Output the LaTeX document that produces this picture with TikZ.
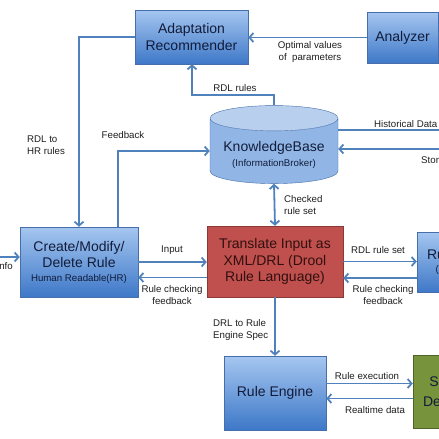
\documentclass[tikz,border=0pt]{standalone}
\usepackage{fontspec}
\setmainfont{Liberation Sans}
\usetikzlibrary{arrows.meta,shapes.geometric}

\definecolor{arrowblue}{RGB}{79,129,189}
\definecolor{boxtop}{RGB}{165,198,240}
\definecolor{boxbot}{RGB}{62,120,200}
\definecolor{boxline}{RGB}{70,110,170}
\definecolor{boxtext}{RGB}{18,28,58}
\definecolor{rulered}{RGB}{192,80,77}
\definecolor{redline}{RGB}{140,56,52}
\definecolor{redtext}{RGB}{48,16,16}
\definecolor{devgreen}{RGB}{119,147,60}
\definecolor{greenline}{RGB}{80,100,40}
\definecolor{kbtop}{RGB}{185,207,238}
\definecolor{kbbody}{RGB}{145,182,230}
\definecolor{lbltext}{RGB}{30,30,30}

\tikzset{
  bluebox/.style={draw=boxline, top color=boxtop, bottom color=boxbot,
    text=boxtext, font=\fontsize{14}{16.5}\selectfont, align=center, inner sep=0pt},
  redbox/.style={draw=redline, fill=rulered, text=redtext,
    font=\fontsize{14}{16.5}\selectfont, align=center, inner sep=0pt},
  greenbox/.style={draw=greenline, fill=devgreen, text=boxtext,
    font=\fontsize{14}{16.5}\selectfont, align=center, inner sep=0pt},
  kbstore/.style={cylinder, shape border rotate=90, aspect=0.25, draw=boxline,
    cylinder uses custom fill, cylinder end fill=kbtop, cylinder body fill=kbbody,
    font=\fontsize{14}{16.5}\selectfont, align=center, inner sep=0pt},
  kbtext/.style={text=boxtext, font=\fontsize{14}{16.5}\selectfont, align=center, inner sep=0pt},
  lbl/.style={font=\fontsize{9.7}{12.5}\selectfont, text=lbltext, align=center, inner sep=0pt},
  arr/.style={draw=arrowblue, line width=1.8pt, -{Straight Barb[length=4pt,width=9pt]}},
  arrboth/.style={arr, {Straight Barb[length=4pt,width=9pt]}-{Straight Barb[length=4pt,width=9pt]}}
}

\newcommand{\smalltext}[1]{{\fontsize{9.7}{12}\selectfont #1}}

\begin{document}
\begin{tikzpicture}[x=1pt, y=-1pt]
  \useasboundingbox (0,0) rectangle (439,439);
  \clip (0,0) rectangle (439,439);

  % boxes
  \node[bluebox, minimum width=113pt, minimum height=54pt] (adapt) at (191.5,37) {Adaptation\\Recommender};
  \node[bluebox, minimum width=71pt, minimum height=51pt] (analyzer) at (402.5,37.5) {Analyzer};
  \node[kbstore, minimum width=128pt, minimum height=78pt] (kb) at (274,151) {\phantom{KnowledgeBase}\\\phantom{\smalltext{(InformationBroker)}}};
  \node[kbtext] (kbname) at (274,155) {KnowledgeBase\\[-1pt]\smalltext{(InformationBroker)}};
  \node[bluebox, minimum width=118pt, minimum height=70pt] (create) at (79,262) {Create/Modify/\\Delete Rule\\[-3pt]\smalltext{Human Readable(HR)}};
  \node[redbox, minimum width=136pt, minimum height=71pt] (translate) at (275,261.5) {Translate Input as\\XML/DRL (Drool\\Rule Language)};
  \node[bluebox, minimum width=105pt, minimum height=60pt] (checker) at (469.5,262) {Rule Checker\\[-3pt]\smalltext{(Rule Compiler)}};
  \node[bluebox, minimum width=102pt, minimum height=74pt] (engine) at (275,393) {Rule Engine};
  \node[greenbox, minimum width=70pt, minimum height=73pt] (devices) at (448,391.5) {Smart\\[3.5pt]Devices};

  % free ends leaving the picture
  \coordinate (rdlbend) at (192,95);
  \coordinate (histout) at (470,130);
  \coordinate (storein) at (470,149);
  \coordinate (infoin) at (-30,257);

  % connectors
  \draw[arr] (analyzer.west) -- (analyzer.west -| adapt.east);
  \node[lbl] (optlbl) at (310,52) {Optimal values\\of\ \ parameters};

  \draw[arr] (kb.north) |- (rdlbend) -- (rdlbend |- adapt.south);
  \node[lbl] (rdllbl) at (235,88) {RDL rules};

  \draw[arr] (adapt.west) -| (create.north);
  \node[lbl, align=left, anchor=west] (hrlbl) at (27,145) {RDL to\\HR rules};

  \draw[arr] ([xshift=39pt]create.north) |- (kb.west);
  \node[lbl] (fblbl) at (123,135) {Feedback};

  \draw[arr] ([yshift=21pt]kb.east) -- (histout);
  \node[lbl, anchor=west] (histlbl) at (374,124) {Historical Data};
  \draw[arr] (storein) -- (storein -| kb.east);
  \node[lbl, anchor=west] (storelbl) at (421,160) {Store};

  \draw[arrboth] (kb.south) -- (translate.north);
  \node[lbl, align=left, anchor=west] (chklbl) at (284,205) {Checked\\rule set};

  \draw[arr] (infoin) -- (infoin -| create.west);
  \node[lbl, anchor=east] (infolbl) at (13,266) {Info};

  \draw[arr] (create.east) -- (create.east -| translate.west);
  \node[lbl] (inlbl) at (172,250) {Input};
  \draw[arr] ([yshift=-16pt]translate.west) -- ([yshift=-16pt]translate.west -| create.east);
  \node[lbl] (rcflbl) at (172,295) {Rule checking\\feedback};

  \draw[arr] (translate.east) -- (translate.east -| checker.west);
  \node[lbl] (setlbl) at (378,250) {RDL rule set};
  \draw[arr] ([yshift=-16pt]checker.west) -- ([yshift=-16pt]checker.west -| translate.east);
  \node[lbl] (rcflbl2) at (383,295) {Rule checking\\feedback};

  \draw[arr] (translate.south) -- (engine.north);
  \node[lbl, align=left, anchor=west] (drllbl) at (213,330) {DRL to Rule\\Engine Spec};

  \draw[arr] ([yshift=8pt]devices.west -| engine.east) -- ([yshift=8pt]devices.west);
  \node[lbl] (exlbl) at (367,376) {Rule execution};
  \draw[arr] ([yshift=-7pt]devices.west) -- ([yshift=-7pt]devices.west -| engine.east);
  \node[lbl] (rtlbl) at (375,410) {Realtime data};
\end{tikzpicture}
\end{document}
